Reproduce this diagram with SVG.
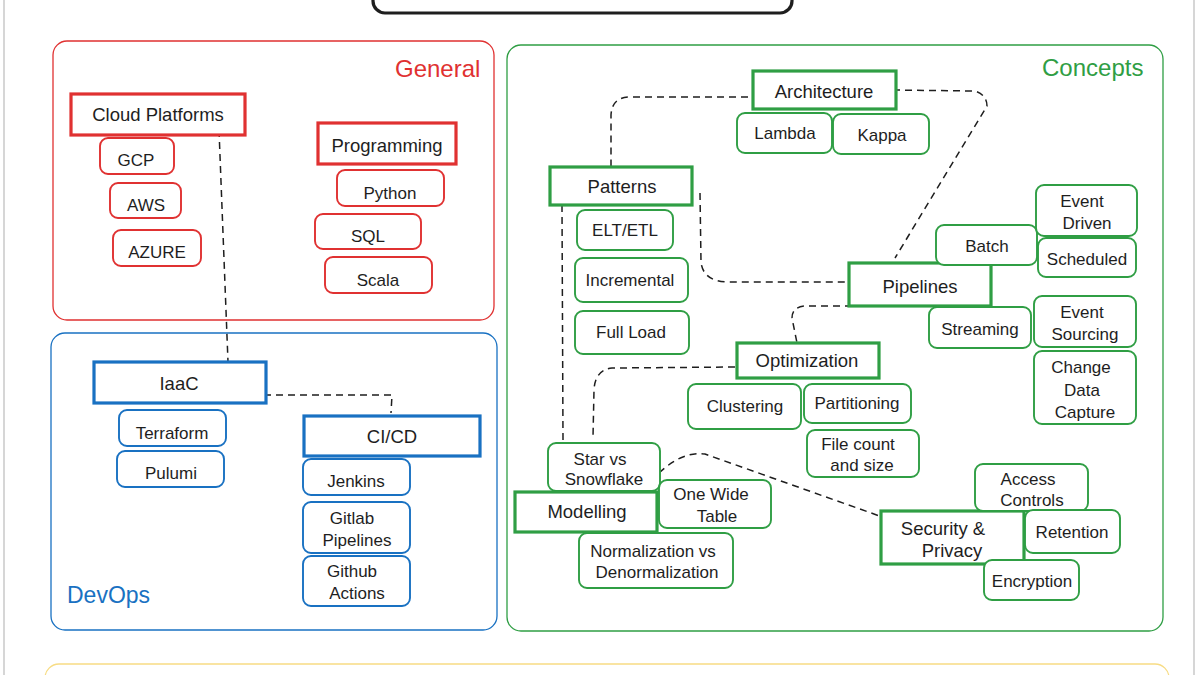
<svg xmlns="http://www.w3.org/2000/svg" width="1200" height="675" viewBox="0 0 1200 675">
<style>
text{font-family:"Liberation Sans",Arial,sans-serif;fill:#1e1e1e;text-anchor:middle;}
.lbl{font-size:17px;}
.big{font-size:18.5px;}
.title{font-size:24px;text-anchor:start;}
.grp{fill:none;stroke-width:1.3;}
.thick{fill:#fff;stroke-width:3.2;}
.sub{fill:#fff;stroke-width:1.9;}
.r{stroke:#e03131;}
.b{stroke:#1971c2;}
.g{stroke:#2f9e44;}
.conn path{fill:none;stroke:#1e1e1e;stroke-width:1.5;stroke-dasharray:7 5;}
</style>
<rect width="1200" height="675" fill="#fff"/>
<line x1="4" y1="0" x2="4" y2="675" stroke="#d6d6d6" stroke-width="2"/>
<line x1="1194" y1="0" x2="1194" y2="675" stroke="#d6d6d6" stroke-width="2"/>
<rect x="373" y="-45" width="419" height="58" rx="12" fill="#fff" stroke="#1e1e1e" stroke-width="3.2"/>

<g id="group-general">
<rect class="grp r" x="53" y="41" width="441" height="279" rx="14"/>
<text class="title" x="395" y="77" style="fill:#e03131">General</text>
</g>
<g id="group-devops">
<rect class="grp b" x="51" y="333" width="446" height="297" rx="14"/>
<text class="title" x="67" y="603" style="fill:#1971c2;font-size:23px">DevOps</text>
</g>
<g id="group-concepts">
<rect class="grp g" x="507" y="45" width="656" height="586" rx="14"/>
<text class="title" x="1042" y="76" style="fill:#2f9e44">Concepts</text>
</g>
<g id="group-bottom">
<rect class="grp" x="45" y="664" width="1124" height="60" rx="14" stroke="#f7dc84" stroke-width="1.6"/>
</g>

<g class="conn" id="connectors">
<path d="M219,130 L228,362"/>
<path d="M264,395 L392,395 L391,413"/>
<path d="M748,97 L630,97 Q612,97 611,115 L611,166"/>
<path d="M893,90 L975,91 Q987,95 987,106 L895,258"/>
<path d="M700,193 L701,262 Q703,281 727,282 L848,282"/>
<path d="M852,306 L805,306 Q792,307 792,318 L797,343"/>
<path d="M562,205 L563,440"/>
<path d="M735,367 L612,368 Q595,370 594,390 L593,437"/>
<path d="M659,473 C675,458 690,452 705,454 L888,519"/>
</g>

<!-- General -->
<g id="cloud-platforms"><rect class="thick r" x="71" y="94" width="174" height="41"/><text class="big" x="158" y="121">Cloud Platforms</text></g>
<g id="gcp"><rect class="sub r" x="100" y="138" width="74" height="36" rx="8"/><text class="lbl" x="136" y="166">GCP</text></g>
<g id="aws"><rect class="sub r" x="110" y="183" width="71" height="35" rx="8"/><text class="lbl" x="146" y="211">AWS</text></g>
<g id="azure"><rect class="sub r" x="113" y="230" width="88" height="36" rx="8"/><text class="lbl" x="157" y="258">AZURE</text></g>
<g id="programming"><rect class="thick r" x="318" y="123" width="138" height="41"/><text class="big" x="387" y="152">Programming</text></g>
<g id="python"><rect class="sub r" x="337" y="170" width="107" height="36" rx="8"/><text class="lbl" x="390" y="199">Python</text></g>
<g id="sql"><rect class="sub r" x="315" y="214" width="106" height="35" rx="8"/><text class="lbl" x="368" y="242">SQL</text></g>
<g id="scala"><rect class="sub r" x="325" y="257" width="107" height="36" rx="8"/><text class="lbl" x="378" y="286">Scala</text></g>

<!-- DevOps -->
<g id="iaac"><rect class="thick b" x="94" y="362" width="172" height="41"/><text class="big" x="179" y="390">IaaC</text></g>
<g id="terraform"><rect class="sub b" x="119" y="410" width="107" height="36" rx="8"/><text class="lbl" x="172" y="439">Terraform</text></g>
<g id="pulumi"><rect class="sub b" x="117" y="451" width="107" height="36" rx="8"/><text class="lbl" x="171" y="479">Pulumi</text></g>
<g id="cicd"><rect class="thick b" x="304" y="416" width="176" height="40"/><text class="big" x="392" y="443">CI/CD</text></g>
<g id="jenkins"><rect class="sub b" x="303" y="459" width="107" height="36" rx="8"/><text class="lbl" x="356" y="487">Jenkins</text></g>
<g id="gitlab"><rect class="sub b" x="303" y="502" width="107" height="51" rx="8"/><text class="lbl" x="352" y="524">Gitlab</text><text class="lbl" x="357" y="546">Pipelines</text></g>
<g id="github"><rect class="sub b" x="303" y="556" width="107" height="50" rx="8"/><text class="lbl" x="352" y="577">Github</text><text class="lbl" x="357" y="599">Actions</text></g>

<!-- Concepts -->
<g id="architecture"><rect class="thick g" x="753" y="71" width="143" height="38"/><text class="big" x="824" y="98">Architecture</text></g>
<g id="lambda"><rect class="sub g" x="737" y="113" width="95" height="40" rx="8"/><text class="lbl" x="785" y="139">Lambda</text></g>
<g id="kappa"><rect class="sub g" x="833" y="114" width="96" height="40" rx="8"/><text class="lbl" x="882" y="141">Kappa</text></g>
<g id="patterns"><rect class="thick g" x="550" y="167" width="142" height="38"/><text class="big" x="622" y="193">Patterns</text></g>
<g id="elt-etl"><rect class="sub g" x="577" y="210" width="96" height="40" rx="8"/><text class="lbl" x="625" y="236">ELT/ETL</text></g>
<g id="incremental"><rect class="sub g" x="575" y="258" width="113" height="44" rx="8"/><text class="lbl" x="630" y="286">Incremental</text></g>
<g id="full-load"><rect class="sub g" x="575" y="311" width="114" height="43" rx="8"/><text class="lbl" x="631" y="338">Full Load</text></g>
<g id="pipelines"><rect class="thick g" x="849" y="263" width="142" height="43"/><text class="big" x="920" y="293">Pipelines</text></g>
<g id="batch"><rect class="sub g" x="936" y="225" width="101" height="40" rx="8"/><text class="lbl" x="987" y="252">Batch</text></g>
<g id="event-driven"><rect class="sub g" x="1036" y="185" width="101" height="51" rx="8"/><text class="lbl" x="1082" y="207">Event</text><text class="lbl" x="1087" y="229">Driven</text></g>
<g id="scheduled"><rect class="sub g" x="1038" y="238" width="98" height="39" rx="8"/><text class="lbl" x="1087" y="265">Scheduled</text></g>
<g id="streaming"><rect class="sub g" x="929" y="307" width="102" height="41" rx="8"/><text class="lbl" x="980" y="335">Streaming</text></g>
<g id="event-sourcing"><rect class="sub g" x="1034" y="296" width="102" height="51" rx="8"/><text class="lbl" x="1082" y="318">Event</text><text class="lbl" x="1085" y="340">Sourcing</text></g>
<g id="cdc"><rect class="sub g" x="1034" y="351" width="102" height="73" rx="8"/><text class="lbl" x="1081" y="373">Change</text><text class="lbl" x="1082" y="396">Data</text><text class="lbl" x="1085" y="418">Capture</text></g>
<g id="optimization"><rect class="thick g" x="737" y="343" width="142" height="35"/><text class="big" x="807" y="367">Optimization</text></g>
<g id="clustering"><rect class="sub g" x="688" y="384" width="113" height="45" rx="8"/><text class="lbl" x="745" y="412">Clustering</text></g>
<g id="partitioning"><rect class="sub g" x="804" y="384" width="107" height="39" rx="8"/><text class="lbl" x="857" y="409">Partitioning</text></g>
<g id="file-count"><rect class="sub g" x="807" y="430" width="112" height="47" rx="8"/><text class="lbl" x="858" y="450">File count</text><text class="lbl" x="862" y="471">and size</text></g>
<g id="star-snowflake"><rect class="sub g" x="548" y="443" width="112" height="48" rx="8"/><text class="lbl" x="600" y="465">Star vs</text><text class="lbl" x="604" y="485">Snowflake</text></g>
<g id="modelling"><rect class="thick g" x="515" y="492" width="142" height="40"/><text class="big" x="587" y="518">Modelling</text></g>
<g id="one-wide-table"><rect class="sub g" x="659" y="480" width="112" height="48" rx="8"/><text class="lbl" x="711" y="500">One Wide</text><text class="lbl" x="717" y="522">Table</text></g>
<g id="normalization"><rect class="sub g" x="579" y="533" width="154" height="55" rx="8"/><text class="lbl" x="653" y="557">Normalization vs</text><text class="lbl" x="657" y="578">Denormalization</text></g>
<g id="security"><rect class="thick g" x="881" y="511" width="143" height="53"/><text class="big" x="943" y="535">Security &amp;</text><text class="big" x="952" y="557">Privacy</text></g>
<g id="access-controls"><rect class="sub g" x="975" y="464" width="113" height="47" rx="8"/><text class="lbl" x="1028" y="485">Access</text><text class="lbl" x="1032" y="506">Controls</text></g>
<g id="retention"><rect class="sub g" x="1025" y="510" width="95" height="43" rx="8"/><text class="lbl" x="1072" y="538">Retention</text></g>
<g id="encryption"><rect class="sub g" x="984" y="560" width="95" height="40" rx="8"/><text class="lbl" x="1032" y="587">Encryption</text></g>
</svg>
